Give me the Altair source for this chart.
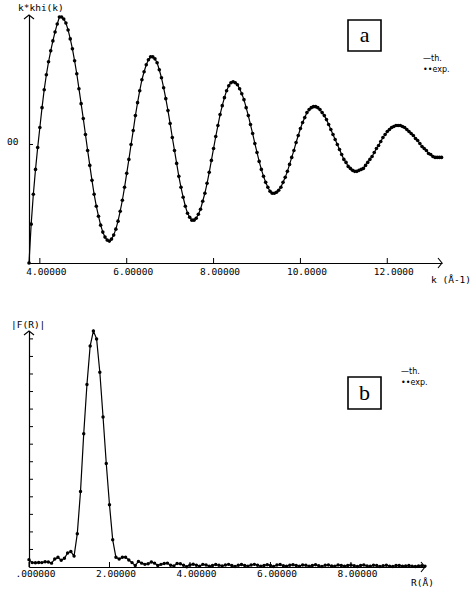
import altair as alt
import pandas as pd

# ---------------- data ----------------
# panel a: k*chi(k), sampled every 0.05 from k = 3.75
K_START, K_STEP = 3.75, 0.05
chi = [
    -1.19, -0.80, -0.50, -0.25, -0.03,
    0.17, 0.37, 0.55, 0.70, 0.83, 0.94, 1.04, 1.13, 1.21, 1.28, 1.28, 1.26, 1.22, 1.15, 1.06, 0.96, 0.84, 0.71, 0.56, 0.41,
    0.26, 0.10, -0.06, -0.21, -0.36, -0.50, -0.62, -0.72, -0.81, -0.88, -0.93, -0.96, -0.97, -0.95, -0.91, -0.85, -0.77, -0.67, -0.56, -0.43,
    -0.29, -0.15, 0.00, 0.14, 0.29, 0.42, 0.54, 0.65, 0.73, 0.80, 0.85, 0.88, 0.88, 0.86, 0.82, 0.75, 0.67, 0.57, 0.46, 0.34,
    0.21, 0.07, -0.06, -0.19, -0.32, -0.43, -0.53, -0.62, -0.69, -0.73, -0.76, -0.76, -0.74, -0.70, -0.65, -0.57, -0.49, -0.39, -0.28, -0.16,
    -0.04, 0.08, 0.19, 0.30, 0.39, 0.47, 0.54, 0.59, 0.62, 0.63, 0.62, 0.60, 0.56, 0.51, 0.45, 0.37, 0.29, 0.20, 0.11, 0.01,
    -0.08, -0.17, -0.25, -0.32, -0.38, -0.43, -0.47, -0.49, -0.49, -0.48, -0.46, -0.43, -0.38, -0.33, -0.27, -0.20, -0.13, -0.06, 0.02, 0.09,
    0.16, 0.22, 0.27, 0.32, 0.35, 0.37, 0.38, 0.38, 0.37, 0.35, 0.32, 0.29, 0.25, 0.20, 0.15, 0.10, 0.05, 0.00, -0.05, -0.10,
    -0.15, -0.18, -0.22, -0.24, -0.26, -0.27, -0.27, -0.26, -0.25, -0.24, -0.21, -0.18, -0.15, -0.12, -0.08, -0.04, -0.01, 0.03, 0.07, 0.10,
    0.13, 0.15, 0.17, 0.18, 0.19, 0.19, 0.19, 0.18, 0.17, 0.15, 0.13, 0.11, 0.09, 0.06, 0.04, 0.01, -0.02, -0.04, -0.06, -0.09,
    -0.10, -0.12, -0.13, -0.13, -0.13, -0.13,
]

# panel b: |F(R)|, sampled every 0.08 from R = 0
R_STEP = 0.08
ft = [
    0.42, 0.25, 0.24, 0.26, 0.25, 0.30, 0.28, 0.22, 0.45, 0.55,
    0.38, 0.50, 0.80, 0.88, 0.62, 1.90, 4.30, 7.60, 10.40, 12.60,
    13.45, 13.00, 11.10, 8.55, 5.90, 3.55, 1.55, 0.55, 0.45, 0.55,
    0.55, 0.40, 0.25, 0.08, 0.32, 0.22, 0.15, 0.18, 0.28, 0.22,
    0.08, 0.15, 0.20, 0.22, 0.10, 0.06, 0.20, 0.18, 0.10, 0.02,
    0.12, 0.16, 0.10, 0.05, 0.15, 0.12, 0.04, 0.08, 0.14, 0.10,
    0.06, 0.12, 0.15, 0.08, 0.03, 0.10, 0.14, 0.09, 0.05, 0.12,
    0.15, 0.10, 0.04, 0.09, 0.13, 0.08, 0.03, 0.11, 0.14, 0.07,
    0.04, 0.10, 0.13, 0.08, 0.05, 0.12, 0.10, 0.04, 0.09, 0.13,
    0.07, 0.03, 0.10, 0.12, 0.06, 0.05, 0.11, 0.09, 0.04, 0.08,
    0.12, 0.07, 0.03, 0.09, 0.11, 0.06, 0.04, 0.10, 0.08, 0.03,
    0.07, 0.10, 0.05, 0.03, 0.08, 0.09, 0.04, 0.06, 0.08, 0.05,
    0.03, 0.06, 0.07, 0.05,
]

k_ticks = [4, 6, 8, 10, 12]
chi_ticks = [0]
r_ticks = [0, 2, 4, 6, 8]
ft_ticks = list(range(1, 14))

dfa = pd.DataFrame({"k": [round(K_START + K_STEP * i, 2) for i in range(len(chi))], "v": chi})
dfb = pd.DataFrame({"R": [round(R_STEP * i, 2) for i in range(len(ft))], "F": ft})
one = pd.DataFrame({"d": [0]})

# ---------------- styling ----------------
WA, HA = 413, 248
WB, HB = 396, 236
MONO = "DejaVu Sans Mono"
LAB = ("datum.value == 0 ? '.000000' : (datum.value < 10 ? format(datum.value, '.5f') "
       ": format(datum.value, '.4f'))")


def axis_x(values, pad):
    return alt.Axis(values=values, title=None, ticks=False, tickSize=0, grid=False,
                    labelExpr=LAB, labelFont=MONO, labelFontSize=9.5, labelColor="black",
                    labelPadding=pad, labelOffset=6, domainColor="black", domainWidth=1.2,
                    labelFlush=False, labelOverlap=False)


def txt(s, x, y, font=MONO, size=9.5, align="left", baseline="middle"):
    return alt.Chart(one).mark_text(text=s, font=font, fontSize=size, align=align,
                                    baseline=baseline, fill="black", color="black").encode(
        x=alt.value(x), y=alt.value(y))


def arrow(x, y, path):
    return alt.Chart(one).mark_point(shape=path, size=100, color="black",
                                     strokeWidth=1.1, filled=False, opacity=1).encode(
        x=alt.value(x), y=alt.value(y))


def box(x1, x2, y1, y2):
    return alt.Chart(one).mark_rect(fillOpacity=0, stroke="black", strokeWidth=1.6).encode(
        x=alt.value(x1), x2=alt.value(x2), y=alt.value(y1), y2=alt.value(y2))


UP = "M-1,0.8L0,0L1,0.8"
RIGHT = "M-0.8,-1L0,0L-0.8,1"

# ---------------- panel a ----------------
xa = alt.X("k:Q", scale=alt.Scale(domain=[3.75, 13.26], nice=False, zero=False),
           axis=axis_x(k_ticks, 3))
ya = alt.Y("v:Q", scale=alt.Scale(domain=[-1.19, 1.30], nice=False, zero=False),
           axis=alt.Axis(values=chi_ticks, labelExpr="'00'", title=None, ticks=False,
                         tickSize=0, grid=False, labelFont=MONO, labelFontSize=9.5,
                         labelColor="black", labelPadding=11, labelOffset=-3,
                         domainColor="black", domainWidth=1.2))

base_a = alt.Chart(dfa)
line_a = base_a.mark_line(color="black", strokeWidth=1.2).encode(x=xa, y=ya)
pts_a = base_a.mark_circle(color="black", size=13, opacity=1).encode(x="k:Q", y="v:Q")
xt_a = alt.Chart(pd.DataFrame({"k": k_ticks})).mark_rule(color="black").encode(
    x="k:Q", y=alt.value(HA), y2=alt.value(HA - 5))
yt_a = alt.Chart(pd.DataFrame({"v": chi_ticks})).mark_rule(color="black").encode(
    y="v:Q", x=alt.value(0), x2=alt.value(4))

panel_a = alt.layer(
    line_a, pts_a, xt_a, yt_a,
    arrow(0, 0, UP), arrow(WA, HA, RIGHT),
    txt("k*khi(k)", -11, -7),
    txt("k (Å-1)", 402, 265),
    box(319, 352, 5, 36),
    txt("a", 335.5, 20, font="Liberation Serif", size=22, align="center"),
    txt("—th.", 394, 44, font="DejaVu Sans", size=8),
    txt("••exp.", 394, 55, font="DejaVu Sans", size=8),
).properties(width=WA, height=HA)

# ---------------- panel b ----------------
xb = alt.X("R:Q", scale=alt.Scale(domain=[0, 9.84], nice=False, zero=False),
           axis=axis_x(r_ticks, 1))
yb = alt.Y("F:Q", scale=alt.Scale(domain=[0, 13.45], nice=False, zero=False),
           axis=alt.Axis(values=[], title=None, ticks=False, tickSize=0, grid=False,
                         labels=False, domainColor="black", domainWidth=1.2))

base_b = alt.Chart(dfb)
line_b = base_b.mark_line(color="black", strokeWidth=1.2).encode(x=xb, y=yb)
pts_b = base_b.mark_circle(color="black", size=12, opacity=1).encode(x="R:Q", y="F:Q")
xt_b = alt.Chart(pd.DataFrame({"R": r_ticks})).mark_rule(color="black").encode(
    x="R:Q", y=alt.value(HB), y2=alt.value(HB - 5))
yt_b = alt.Chart(pd.DataFrame({"F": ft_ticks})).mark_rule(color="black").encode(
    y="F:Q", x=alt.value(0), x2=alt.value(4))

panel_b = alt.layer(
    line_b, pts_b, xt_b, yt_b,
    arrow(0, 0, UP), arrow(WB, HB, RIGHT),
    txt("|F(R)|", -18, -6),
    txt("R(Å)", 382, 252),
    box(319, 352, 46, 78),
    txt("b", 335.5, 62, font="Liberation Serif", size=22, align="center"),
    txt("—th.", 372, 41, font="DejaVu Sans", size=8),
    txt("••exp.", 372, 52, font="DejaVu Sans", size=8),
).properties(width=WB, height=HB)

chart = alt.vconcat(panel_a, panel_b, spacing=35).configure_view(
    stroke=None).properties(padding={"left": 6, "top": 3, "right": 0, "bottom": 0},
                            background="white")

chart.save("out.html", embed_options={"renderer": "svg", "actions": False})
